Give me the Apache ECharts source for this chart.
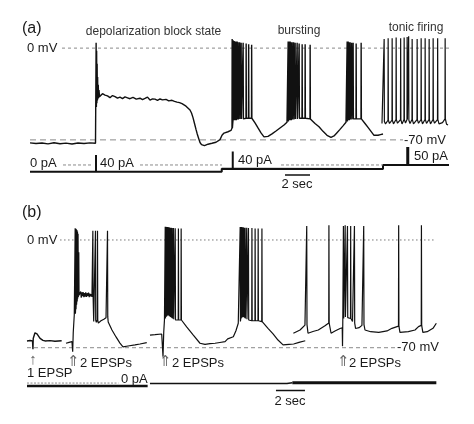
<!DOCTYPE html>
<html>
<head>
<meta charset="utf-8">
<script src="https://cdn.jsdelivr.net/npm/echarts@6/dist/echarts.min.js"></script>
<style>
  html, body { margin: 0; padding: 0; background: #fff; }
  #chart { width: 474px; height: 424px; }
</style>
</head>
<body>
<div id="chart"></div>
<script>
// ---- panel (a): time in s, membrane potential in mV ----
// slow part of the trace (block state + bursting), [t, mV]
const blockBurstSlow = [
  [0, -72.3], [0.48, -72.8], [0.96, -72.4], [1.44, -73.0], [1.92, -72.2], [2.4, -72.9], [2.88, -72.5],
  [3.36, -73.1], [3.84, -72.4], [4.32, -72.8], [4.8, -72.3], [5.24, -72.6],
  [5.28, -72], [5.29, 4], [5.31, -45], [5.33, -2], [5.35, -42], [5.37, -12], [5.39, -40], [5.41, -22],
  [5.43, -39], [5.46, -28], [5.49, -38], [5.52, -32], [5.56, -37],
  [5.6, -36.0], [5.8, -34.8], [6.0, -35.8], [6.2, -36.4], [6.4, -37.8], [6.6, -36.2], [6.8, -37.0],
  [7.0, -38.2], [7.2, -37.4], [7.4, -38.5], [7.6, -37.2], [7.8, -37.9], [8.0, -38.6], [8.24, -37.6],
  [8.5, -38.9], [8.8, -38.2], [9.0, -39.3], [9.2, -38.4], [9.4, -37.4], [9.6, -39.6], [9.8, -38.7],
  [10.0, -38.9], [10.2, -39.8], [10.4, -38.8], [10.6, -39.5], [10.88, -39.1], [11.1, -40.2], [11.36, -39.8],
  [11.56, -40.6], [11.76, -41.2], [11.96, -41.6], [12.16, -42.4], [12.32, -43.2], [12.48, -44.3],
  [12.64, -45.5], [12.8, -47.2], [12.92, -49.5], [13.04, -53.0], [13.16, -57.5], [13.28, -62.0],
  [13.38, -65.5], [13.48, -68.5], [13.6, -72.0], [13.72, -73.6], [13.84, -74.3], [13.96, -74.4],
  [14.08, -74.0], [14.24, -73.3], [14.4, -73.6], [14.56, -72.6], [14.72, -72.8], [14.88, -71.8],
  [15.04, -71.2], [15.2, -69.8], [15.36, -66.5], [15.52, -64.8], [15.68, -65.2], [15.84, -63.8], [16.08, -62.8],
  [17.84, -55], [18.0, -57], [18.24, -60.9], [18.48, -64.7], [18.72, -67.7], [19.04, -67.3], [19.36, -65.4],
  [19.68, -63.2], [20.0, -60.9], [20.32, -58.6], [20.56, -56.5],
  [22.48, -55.5], [22.8, -57.5], [23.12, -60], [23.44, -63.5], [23.76, -66.5], [24.08, -68.0], [24.32, -67.0],
  [24.56, -64.5], [24.8, -62.0], [25.04, -59.3], [25.28, -56.5],
  [26.56, -55], [26.8, -57.5], [27.04, -60.5], [27.28, -63.5], [27.52, -66.5], [27.68, -68], [27.84, -66.5],
  [28.04, -66], [28.24, -65.5]
];
// spikes of the three bursts, [t, foot mV, peak mV]
const burstSpikes = [
  [16.16, -61, 7], [16.24, -55, 6], [16.32, -55, 5.5], [16.40, -55, 5], [16.48, -55, 5], [16.56, -54.5, 5],
  [16.64, -54.5, 4.5], [16.76, -54, 4.5], [16.88, -54, 4], [17.04, -54, 4], [17.28, -53.5, 3.5],
  [17.48, -53.5, 3], [17.72, -53.5, 2.5],
  [20.64, -56, 5], [20.72, -55, 5], [20.80, -55, 5], [20.88, -55, 4.5], [20.96, -54.5, 4.5], [21.08, -54.5, 4.5],
  [21.20, -54, 4], [21.36, -54, 4], [21.52, -53.5, 3.5], [21.76, -53.5, 3], [22.0, -53.5, 3], [22.4, -54, 2.5],
  [25.36, -56, 5], [25.44, -55, 5], [25.52, -55, 4.5], [25.60, -54.5, 4.5], [25.72, -54.5, 4], [25.84, -54, 4],
  [26.08, -54, 3.5], [26.48, -54, 4]
];
const tonicSlow = [
  [28.16, -57.5], [28.44, -57.8], [28.76, -57.5], [29.08, -57.8], [29.40, -57.3], [29.76, -57.8], [30.04, -57.2],
  [30.40, -57.5], [30.68, -57.8], [31.08, -57.3], [31.40, -57.8], [31.72, -57.4], [32.04, -57.8], [32.36, -57.3],
  [32.72, -57.8], [33.0, -56.8], [33.32, -58], [33.44, -58.6]
];
const tonicSpikes = [
  [28.32, -56, 7], [28.64, -55, 7.5], [28.96, -55, 7.5], [29.28, -54.5, 8], [29.64, -54.5, 7.5], [29.92, -54.5, 8],
  [30.16, -54.5, 8.5], [30.28, -55, 9], [30.56, -54.5, 7], [30.96, -54.5, 7], [31.28, -54.5, 7.5], [31.60, -54.5, 7.5],
  [31.92, -54.5, 7], [32.24, -54.5, 7.5], [32.60, -54.5, 7.5], [33.20, -54, 7.5]
];
// injected current (a), [t, pA]
const currentA = [[0, 0], [15.34, 0], [15.34, 7], [28.24, 6.5], [28.24, 16], [33.52, 16]];
const currentMarksA = [[5.28, 0, 40], [16.22, 7, 48], [30.22, 16, 59]];
const currentRefA = [[2.64, 4.96], [8.8, 15.36], [20.08, 28.24]];
const refLevelA = 16;
const scaleBarA = [20.4, 22.4];

// ---- panel (b) ----
const epsp1 = [
  [0, -65.6], [0.21, -65.3], [0.38, -65.6], [0.41, -71], [0.43, -64], [0.55, -60.3], [0.69, -61.0],
  [0.90, -63.9], [1.10, -65.2], [1.24, -65.6], [1.59, -65.4], [1.93, -65.8], [2.39, -65.5]
];
const epsp2Slow = [
  [2.69, -67.1], [2.9, -66.5], [3.1, -66.0], [3.15, -72.6], [3.19, -60], [3.26, -48.8],
  [3.62, -35], [3.66, -37], [3.70, -33.5], [3.74, -37.5], [3.79, -34], [3.83, -36.5], [3.87, -33.8],
  [3.92, -37.2], [3.96, -34.5], [4.0, -36.8], [4.05, -34], [4.1, -37], [4.14, -34.6], [4.19, -36.4],
  [4.24, -34.2], [4.29, -37.1], [4.33, -34.8], [4.38, -36.6], [4.43, -35.2], [4.48, -37],
  [4.60, -53], [4.78, -53.5], [4.92, -54], [5.1, -52.5], [5.3, -51.5], [5.45, -50.5],
  [5.60, -53.3], [5.86, -58.5], [6.14, -63], [6.41, -67], [6.62, -69.5], [6.97, -68.9], [7.45, -68.2],
  [7.79, -67.6], [8.26, -66.7]
];
const epsp2Spikes = [
  [3.31, -48, 7.6], [3.35, -45, 7.3], [3.39, -42, 7], [3.43, -40, 6.5], [3.47, -38, 5.5], [3.51, -37, 4],
  [3.56, -36, -8], [4.53, -37, 6], [4.71, -52, 6], [4.85, -52, 6], [5.54, -50, 6]
];
const epsp3Slow = [
  [8.48, -61.8], [8.83, -61.5], [9.29, -61.1], [9.38, -75.8], [9.43, -60], [9.48, -52],
  [10.67, -52.6], [11.01, -56.4], [11.47, -61.8], [11.93, -67.1], [12.28, -67.8], [12.62, -67.3],
  [12.97, -67.1], [13.3, -66.6], [13.66, -66.1], [13.84, -64.3], [14.23, -62.9], [14.41, -59], [14.57, -54.1],
  [16.27, -53.1], [16.62, -57.4], [16.97, -61], [17.31, -65], [17.66, -68.2], [18.07, -67.8], [18.39, -67.6],
  [18.76, -66.5], [19.19, -65.5]
];
const epsp3Spikes = [
  [9.52, -51, 8.6], [9.56, -50, 8.6], [9.61, -49.5, 8.5], [9.66, -49, 8.5], [9.70, -49, 8.4], [9.75, -49, 8.3],
  [9.79, -49.5, 8.2], [9.86, -50, 8], [9.93, -50.5, 8], [10.0, -51, 7.8], [10.09, -51.5, 7.8], [10.21, -52, 7.6],
  [10.43, -52, 7.5], [10.62, -52, 7.5],
  [14.69, -53, 8.5], [14.74, -51, 8.5], [14.79, -50.5, 8.4], [14.85, -50, 8.3], [14.90, -50, 8.2], [14.96, -50.5, 8],
  [15.03, -51, 8], [15.14, -51.5, 8], [15.26, -52, 7.8], [15.50, -52.5, 7.8], [15.72, -52.5, 7.5], [15.93, -52.5, 7.5],
  [16.19, -53, 7.5]
];
const epsp4Slow = [
  [18.37, -60.6], [18.83, -58.5], [19.17, -55.3],
  [19.38, -60.6], [19.72, -59.5], [20.09, -58.5], [20.55, -55.8],
  [20.97, -60.6], [21.24, -59.2], [21.59, -57.5], [21.74, -57], [21.76, -69], [21.78, -52],
  [21.87, -52], [22.0, -50.5], [22.2, -51.5], [22.45, -53], [22.66, -57.5], [22.9, -57], [23.1, -55.5],
  [23.31, -58.5], [23.7, -59.6], [24.26, -60], [24.83, -59.1], [25.17, -57.4],
  [25.72, -60], [26.3, -59.6], [26.76, -58.5], [27.0, -56.3],
  [27.30, -60], [27.6, -59.6], [28.0, -57.4], [28.23, -54.1]
];
const epsp4Spikes = [
  [19.28, -55, 9], [20.81, -54, 9.5], [21.81, -51, 9], [21.93, -50, 9.5], [22.09, -50.5, 9], [22.31, -51, 9],
  [22.57, -54, 9], [23.21, -55, 9], [25.62, -56, 9.5], [27.19, -55.5, 9.5]
];
const currentB1 = [[0, 0], [8.32, 0]];
const currentB2 = [[8.48, 6], [17.93, 6], [18.3, 8]];
const currentB3 = [[18.3, 8], [28.23, 8]];
const currentRefB = [[0, 6.3]];
const refLevelB = 7;
const scaleBarB = [17.17, 19.17];

// merge slow points and spikes into one trace
function trace (slow, spikes) {
  let pts = slow.map(p => [p[0], p[1]])
  ;(spikes || []).forEach(s => {
    pts.push([s[0], s[1]], [s[0] + 0.012, s[2]], [s[0] + 0.03, s[1]])
  })
  pts.sort((a, b) => a[0] - b[0])
  return pts
}

function line (idx, data, color, width, type) {
  return {
    type: 'line',
    xAxisIndex: idx,
    yAxisIndex: idx,
    data: data,
    symbol: 'none',
    silent: true,
    animation: false,
    lineStyle: { color: color, width: width, type: type || 'solid' }
  }
}

const FONT = "'Liberation Sans', Arial, sans-serif"
function label (txt, x, y, size, align, color) {
  return {
    type: 'text',
    x: x,
    y: y,
    z: 100,
    silent: true,
    style: {
      text: txt,
      fontSize: size,
      fontFamily: FONT,
      fill: color || '#1a1a1a',
      align: align || 'left',
      verticalAlign: 'middle'
    }
  }
}

const grids = [
  { left: 30, width: 425, top: 35, height: 118 },
  { left: 30, width: 425, top: 146.5, height: 33.6 },
  { left: 27, width: 435, top: 221.5, height: 141.6 },
  { left: 27, width: 435, top: 377.6, height: 14.28 }
]
const xRanges = [[0, 34], [0, 34], [0, 30], [0, 30]]
const yRanges = [[-80, 10], [-20, 60], [-80, 12], [-14, 20]]

const TR = '#111'
const GR = '#8a8a8a'
let series = [
  line(0, [[2.56, 0], [33.52, 0]], GR, 1, [3, 3]),
  line(0, [[0, -70], [29.84, -70]], GR, 1, [6, 4]),
  line(0, trace(blockBurstSlow, burstSpikes), TR, 1.4),
  line(0, trace(tonicSlow, tonicSpikes), TR, 1.2),
  line(1, currentA, TR, 2),
  line(1, [[scaleBarA[0], -8], [scaleBarA[1], -8]], TR, 1.5),
  line(2, [[2.28, 0], [28.2, 0]], '#777', 1, [1.5, 2.5]),
  line(2, [[0, -70], [25.4, -70]], GR, 1, [4, 3]),
  line(2, trace(epsp1), TR, 1.4),
  line(2, trace(epsp2Slow, epsp2Spikes), TR, 1.2),
  line(2, trace(epsp3Slow, epsp3Spikes), TR, 1.2),
  line(2, trace(epsp4Slow, epsp4Spikes), TR, 1.2),
  line(3, currentB1, TR, 2.5),
  line(3, currentB2, TR, 1.5),
  line(3, currentB3, TR, 3),
  line(3, [[scaleBarB[0], -10.7], [scaleBarB[1], -10.7]], TR, 1.5)
]
currentRefA.forEach(s => series.push(line(1, [[s[0], refLevelA], [s[1], refLevelA]], GR, 1, [3, 2])))
currentRefB.forEach(s => series.push(line(3, [[s[0], refLevelB], [s[1], refLevelB]], GR, 1, [2, 1.5])))
currentMarksA.forEach((m, i) => series.push(line(1, [[m[0], m[1]], [m[0], m[2]]], TR, i === 2 ? 3 : 2)))

const texts = [
  label('(a)', 22, 29, 16),
  label('depolarization block state', 153.5, 31.5, 12, 'center', '#333'),
  label('bursting', 299, 31, 12, 'center', '#333'),
  label('tonic firing', 416, 28, 12, 'center', '#333'),
  label('0 mV', 27, 48, 13),
  label('-70 mV', 404, 140, 13),
  label('0 pA', 30, 163, 13),
  label('40 pA', 100, 163, 13),
  label('40 pA', 238, 160, 13),
  label('50 pA', 414, 156, 13),
  label('2 sec', 297, 184, 13, 'center'),
  label('(b)', 22, 213, 16),
  label('0 mV', 27, 240, 13),
  label('-70 mV', 397, 347, 13),
  label('\u2191', 33, 360, 15, 'center', '#666'),
  label('1 EPSP', 27, 373, 13),
  label('\u21D1', 73, 362, 15, 'center', '#666'),
  label('2 EPSPs', 80, 363.5, 13),
  label('\u21D1', 165, 362, 15, 'center', '#666'),
  label('2 EPSPs', 172, 363.5, 13),
  label('\u21D1', 343, 362, 15, 'center', '#666'),
  label('2 EPSPs', 349, 363.5, 13),
  label('0 pA', 121, 379, 13),
  label('2 sec', 290, 401, 13, 'center')
]

let myChart = echarts.init(document.getElementById('chart'))
myChart.setOption({
  backgroundColor: '#fff',
  animation: false,
  grid: grids,
  xAxis: grids.map((g, i) => ({
    type: 'value', gridIndex: i, min: xRanges[i][0], max: xRanges[i][1], show: false
  })),
  yAxis: grids.map((g, i) => ({
    type: 'value', gridIndex: i, min: yRanges[i][0], max: yRanges[i][1], show: false
  })),
  series: series,
  graphic: texts
})
</script>
</body>
</html>
